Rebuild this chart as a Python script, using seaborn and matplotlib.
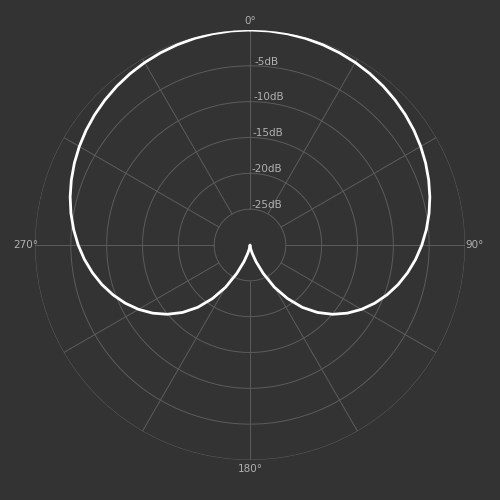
import numpy as np
import matplotlib
matplotlib.use("Agg")
import matplotlib.pyplot as plt
import seaborn as sns

sns.set_theme(style="dark")
plt.rcParams['font.family'] = ['DejaVu Sans']

# polar response, 0..180 deg in 5 deg steps (mirrored for 180..360)
angles_deg = list(range(0, 185, 5))
level_db = [0.0, -0.02, -0.07, -0.15, -0.27, -0.42, -0.60, -0.82, -1.08, -1.38,
            -1.71, -2.08, -2.50, -2.96, -3.47, -4.02, -4.63, -5.30, -6.02, -6.81,
            -7.68, -8.62, -9.66, -10.79, -12.04, -13.42, -14.96, -16.69, -18.64,
            -20.88, -23.2, -25.6, -27.5, -28.8, -29.5, -29.9, -30.0]
ring_db = [0, -5, -10, -15, -20, -25]
ring_labels = ['-5dB', '-10dB', '-15dB', '-20dB', '-25dB']
spoke_deg = list(range(0, 360, 30))
cardinal_deg = [0, 90, 180, 270]
cardinal_labels = ['0°', '90°', '180°', '270°']

bg = '#333333'
grid_c = '#5c5c5c'
text_c = '#b0b0b0'

fig = plt.figure(figsize=(5, 5), dpi=100, facecolor=bg)
ax = fig.add_axes([0.07, 0.08, 0.86, 0.86], projection='polar')
ax.set_facecolor(bg)
ax.set_theta_zero_location('N')
ax.set_theta_direction(-1)
ax.set_ylim(-30, 0)
ax.grid(False)
ax.set_xticks([])
ax.set_yticks([])
ax.spines['polar'].set_visible(False)

full = np.linspace(0, 2 * np.pi, 361)
for r in ring_db:
    ax.plot(full, np.full_like(full, r), color=grid_c, lw=0.7, zorder=1)
for a in spoke_deg:
    ax.plot([np.deg2rad(a)] * 2, [-25, 0], color=grid_c, lw=0.7, zorder=1)

for r, lab in zip(ring_db[1:], ring_labels):
    ax.text(np.deg2rad(1.5), r + 0.6, lab, color=text_c, fontsize=7.5,
            ha='left', va='center')

for a, lab in zip(cardinal_deg, cardinal_labels):
    ax.text(np.deg2rad(a), 1.3, lab, color=text_c, fontsize=7.5,
            ha='center', va='center')

th = np.deg2rad(angles_deg + [360 - a for a in angles_deg[::-1]])
vals = level_db + level_db[::-1]
ax.plot(th, vals, color='white', lw=2, zorder=3)

fig.savefig('out.png', dpi=100, facecolor=bg)
